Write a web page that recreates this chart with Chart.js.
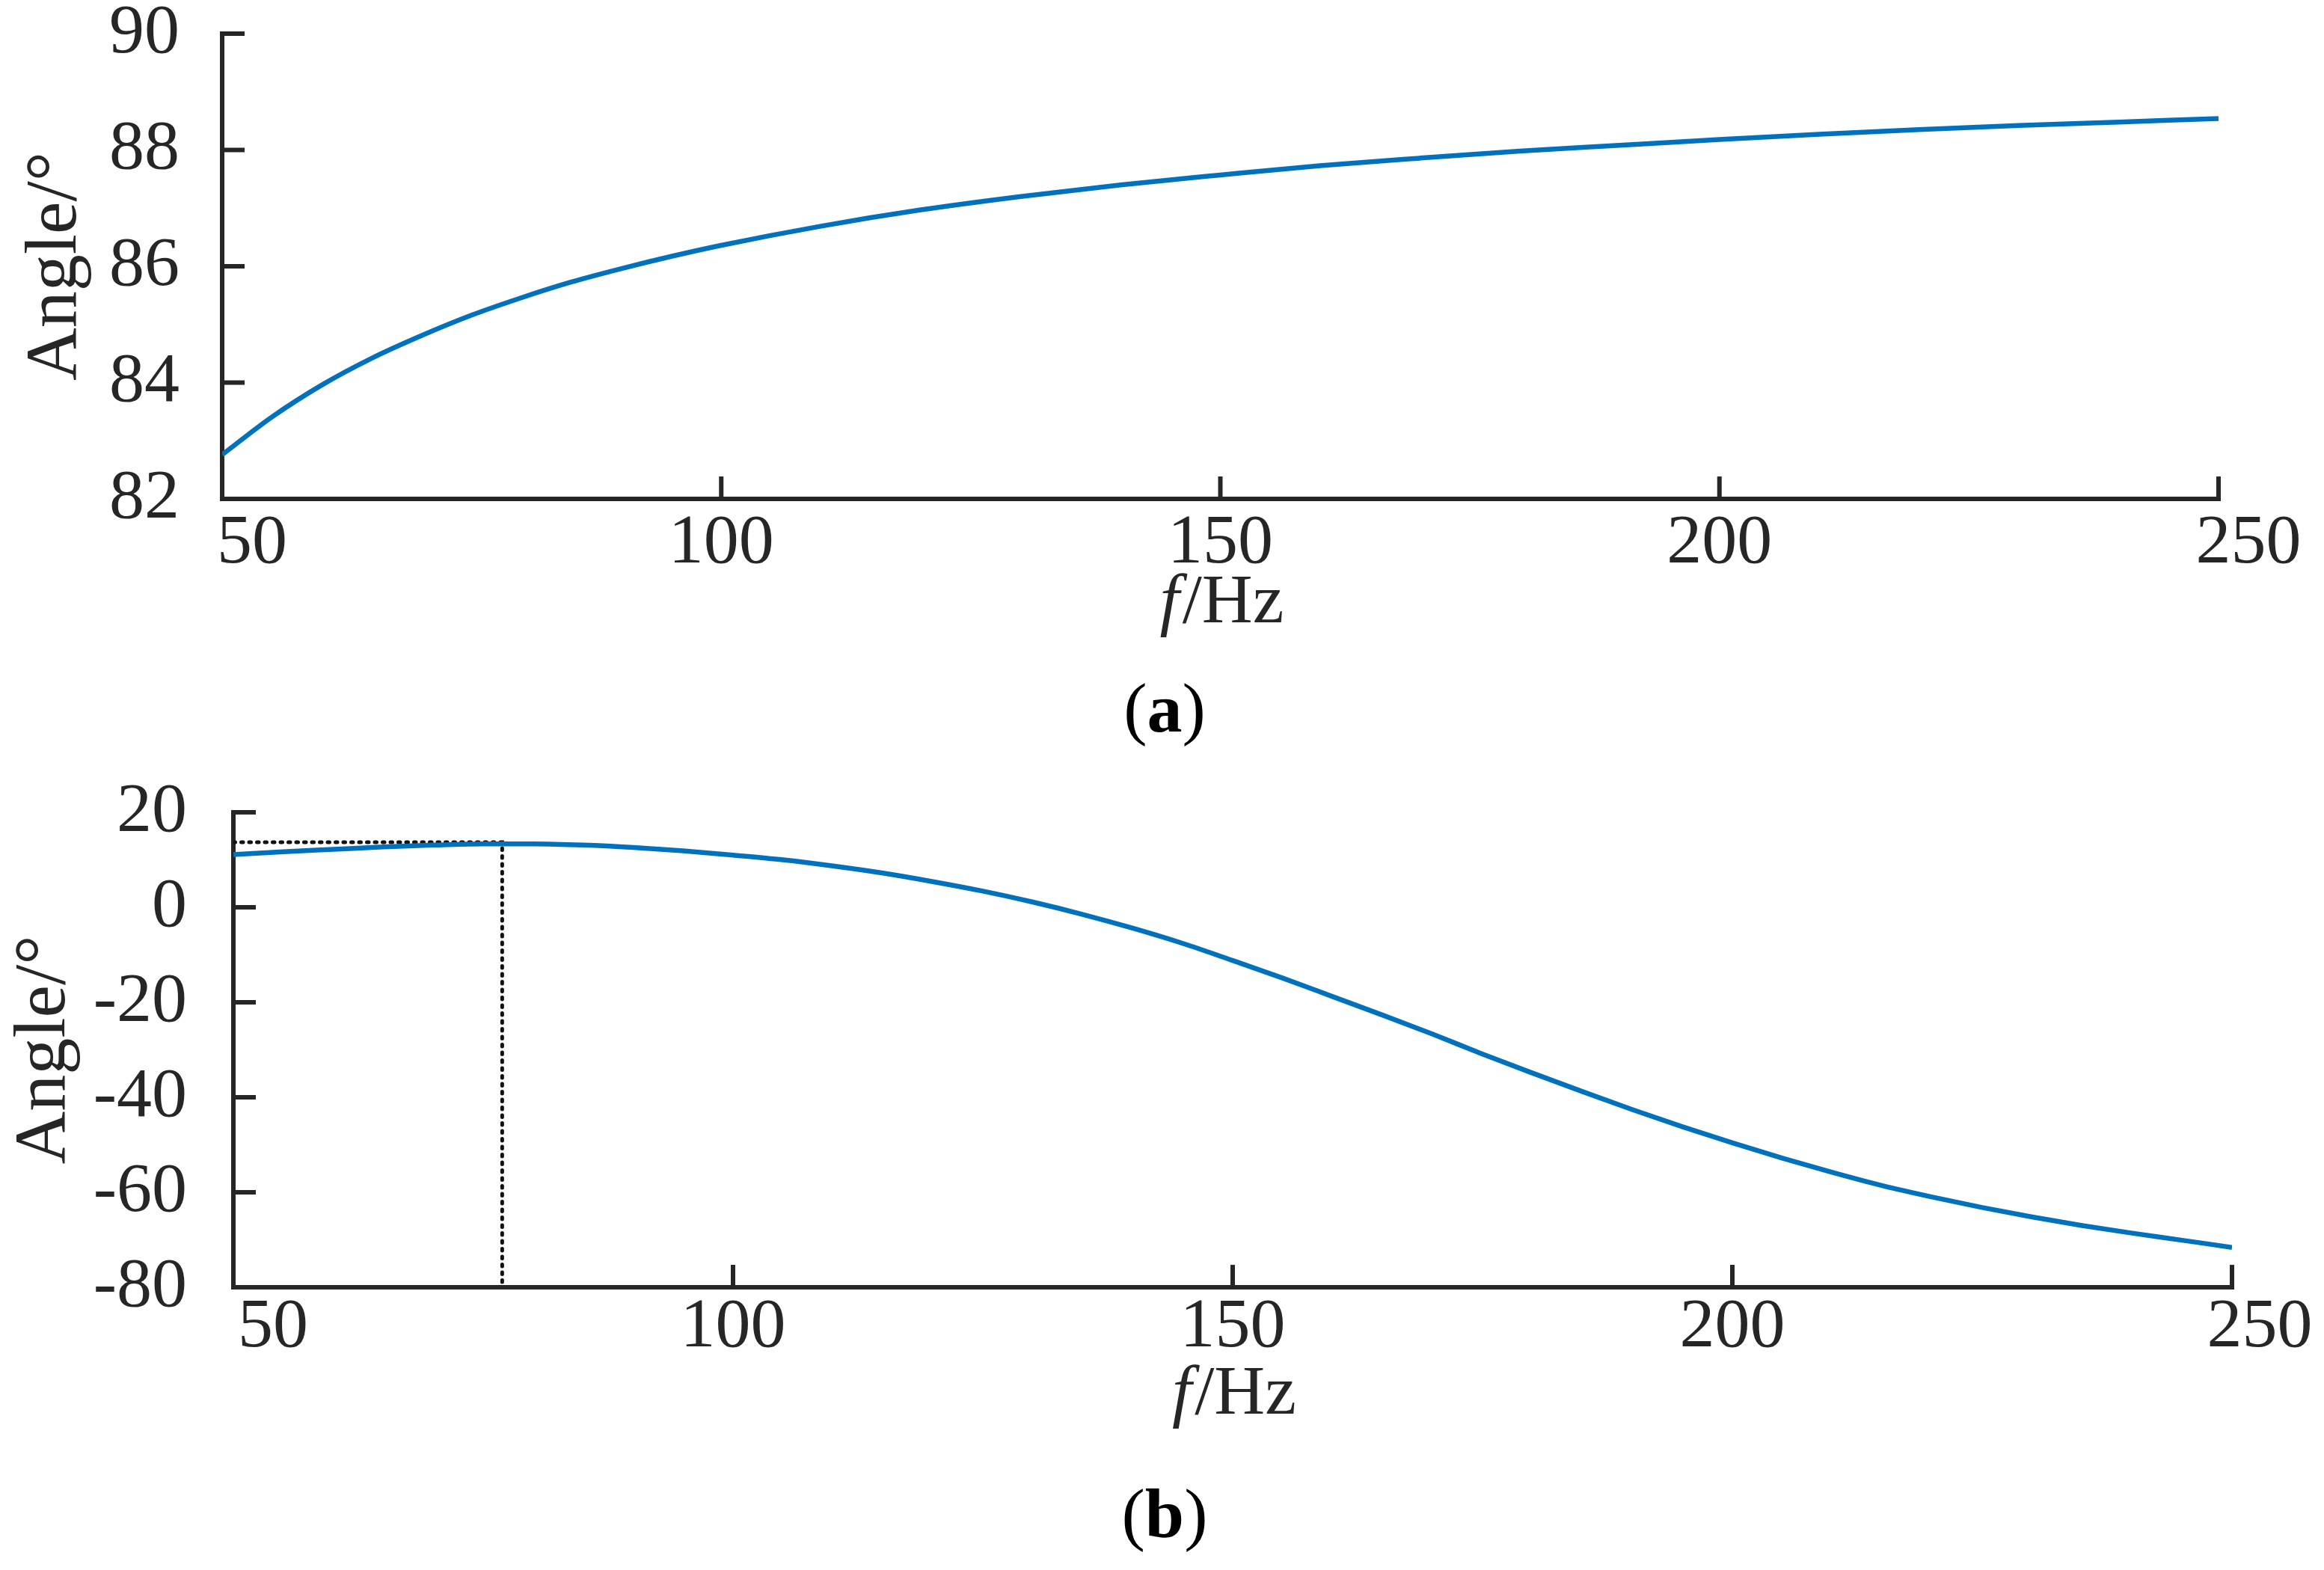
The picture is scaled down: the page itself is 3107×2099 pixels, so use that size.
<!DOCTYPE html>
<html>
<head>
<meta charset="utf-8">
<script src="https://cdn.jsdelivr.net/npm/chart.js@4.4.1/dist/chart.umd.min.js"></script>
<style>
  html, body { margin: 0; padding: 0; background: #fff; }
  #page { position: relative; width: 3107px; height: 2099px; background: #fff; }
  .panel { position: absolute; left: 0; width: 3107px; }
</style>
</head>
<body>
<div id="page">
  <div class="panel" style="top:0;height:1040px"><canvas id="chartA"></canvas></div>
  <div class="panel" style="top:1040px;height:1059px"><canvas id="chartB"></canvas></div>
</div>
<script>
// (a) impedance angle vs frequency
const freqA  = [50, 55, 60, 65, 70, 75, 80, 85, 90, 95, 100, 110, 120, 130, 140, 150, 160, 170, 180, 190, 200, 210, 220, 230, 240, 250];
const angleA = [82.76, 83.41, 83.96, 84.42, 84.81, 85.16, 85.46, 85.73, 85.96, 86.17, 86.36, 86.69, 86.97, 87.20, 87.40, 87.57, 87.73, 87.86, 87.98, 88.08, 88.18, 88.27, 88.35, 88.42, 88.48, 88.54];
const yTicksA = [82, 84, 86, 88, 90];

// (b) angle vs frequency, with the peak marked by dotted lines
const freqB  = [50, 55, 60, 65, 70, 75, 80, 85, 90, 95, 100, 105, 110, 115, 120, 125, 130, 135, 140, 145, 150,
                155, 160, 165, 170, 175, 180, 185, 190, 195, 200, 205, 210, 215, 220, 225, 230, 235, 240, 245, 250];
const angleB = [11.1, 11.7, 12.2, 12.7, 13.1, 13.35, 13.35, 13.1, 12.6, 11.9, 11.0, 10.0, 8.7, 7.2, 5.4, 3.4, 1.1, -1.5, -4.4, -7.6, -11.2,
                -14.9, -18.8, -22.7, -26.7, -30.9, -34.9, -38.8, -42.6, -46.2, -49.6, -52.8, -55.8, -58.6, -61.0, -63.2, -65.2, -67.0, -68.6, -70.1, -71.6];
const yTicksB = [-80, -60, -40, -20, 0, 20];
const peakX = [50, 76.9, 76.9];
const peakY = [13.7, 13.7, -80];

const xTicks = [50, 100, 150, 200, 250];

const AXIS = '#262626';
const BLUE = '#0072BD';
const SERIF = '"Liberation Serif", "Times New Roman", serif';
const FS = 94;
Chart.defaults.font.family = SERIF;

// matlab-like axes: left + bottom line, inward ticks, x labels, f/Hz title and panel caption
const matlabAxes = {
  id: 'matlabAxes',
  beforeDatasetsDraw(chart) {
    const { ctx, chartArea: a, scales: { x, y } } = chart;
    ctx.save();
    ctx.strokeStyle = AXIS;
    ctx.lineWidth = 6;
    ctx.lineCap = 'square';
    ctx.lineJoin = 'miter';
    ctx.beginPath();
    ctx.moveTo(a.left, a.top);
    ctx.lineTo(a.left, a.bottom);
    ctx.lineTo(a.right, a.bottom);
    ctx.stroke();
    ctx.lineCap = 'butt';
    ctx.beginPath();
    x.ticks.forEach(t => {
      const px = x.getPixelForValue(t.value);
      ctx.moveTo(px, a.bottom);
      ctx.lineTo(px, a.bottom - 30);
    });
    y.ticks.forEach(t => {
      const py = y.getPixelForValue(t.value);
      ctx.moveTo(a.left, py);
      ctx.lineTo(a.left + 30, py);
    });
    ctx.stroke();
    ctx.restore();
  },
  afterDraw(chart, args, opts) {
    const { ctx, chartArea: a, scales: { x } } = chart;
    const it = `italic ${FS}px ${SERIF}`, rg = `${FS}px ${SERIF}`, bd = `bold ${FS}px ${SERIF}`;
    ctx.save();
    ctx.textBaseline = 'alphabetic';
    ctx.fillStyle = AXIS;

    // x tick labels (end labels sit a little to the right, as in the original figure)
    ctx.font = rg;
    ctx.textAlign = 'center';
    const n = x.ticks.length;
    x.ticks.forEach((t, i) => {
      let shift = 0;
      if (i === 0) shift = opts.firstShift;
      if (i === n - 1) shift = opts.lastShift;
      ctx.fillText(String(t.value), x.getPixelForValue(t.value) + shift, a.bottom + opts.labelDrop);
    });

    // x title, italic f
    ctx.textAlign = 'left';
    ctx.font = it;
    const wf = ctx.measureText('f').width;
    ctx.font = rg;
    const wr = ctx.measureText('/Hz').width;
    const x0 = (a.left + a.right) / 2 - (wf + wr) / 2;
    const yb = a.bottom + opts.titleDrop;
    ctx.font = it;
    ctx.fillText('f', x0, yb);
    ctx.font = rg;
    ctx.fillText('/Hz', x0 + wf + 4, yb);

    // caption (a)/(b): letter bold, brackets regular
    ctx.fillStyle = '#000';
    ctx.font = rg;
    const wo = ctx.measureText('(').width;
    ctx.font = bd;
    const wl = ctx.measureText(opts.letter).width;
    const cx = opts.captionX - (2 * wo + wl) / 2;
    ctx.font = rg;
    ctx.fillText('(', cx, opts.captionY);
    ctx.font = bd;
    ctx.fillText(opts.letter, cx + wo, opts.captionY);
    ctx.font = rg;
    ctx.fillText(')', cx + wo + wl, opts.captionY);
    ctx.restore();
  }
};

function makeChart(id, cfg) {
  return new Chart(document.getElementById(id), {
    type: 'line',
    data: { datasets: cfg.datasets },
    options: {
      responsive: true,
      maintainAspectRatio: false,
      animation: false,
      layout: { autoPadding: false, padding: { top: cfg.padTop, right: cfg.padRight, left: 0, bottom: 0 } },
      plugins: {
        legend: { display: false },
        tooltip: { enabled: false },
        matlabAxes: {
          titleDrop: cfg.titleDrop, labelDrop: cfg.labelDrop,
          firstShift: cfg.firstShift, lastShift: cfg.lastShift,
          letter: cfg.letter, captionX: 1557, captionY: cfg.captionY
        }
      },
      scales: {
        x: {
          type: 'linear',
          min: 50, max: 250,
          afterBuildTicks: s => { s.ticks = xTicks.map(v => ({ value: v })); },
          ticks: { display: false },
          grid: { display: false, drawTicks: false },
          border: { display: false },
          afterFit: s => {
            s.height = cfg.xHeight;
            s.paddingLeft = 0; s.paddingRight = 0;
          }
        },
        y: {
          min: cfg.yTicks[0], max: cfg.yTicks[cfg.yTicks.length - 1],
          afterBuildTicks: s => { s.ticks = cfg.yTicks.map(v => ({ value: v })); },
          ticks: { padding: cfg.yPad, color: AXIS, font: { family: SERIF, size: FS, lineHeight: 1 },
                   callback: v => String(v) },
          grid: { display: false, drawTicks: false },
          border: { display: false },
          title: { display: true, text: 'Angle/°', color: AXIS,
                   font: { family: SERIF, size: 98, lineHeight: 1 },
                   padding: { top: cfg.titlePad, bottom: 0 } },
          afterFit: s => {
            s.width = cfg.yWidth;
            s.paddingTop = 0; s.paddingBottom = 0;
          }
        }
      }
    },
    plugins: [matlabAxes]
  });
}

makeChart('chartA', {
  datasets: [{
    data: freqA.map((f, i) => ({ x: f, y: angleA[i] })),
    borderColor: BLUE, borderWidth: 6.5, pointRadius: 0,
    cubicInterpolationMode: 'monotone', fill: false
  }],
  yTicks: yTicksA,
  padTop: 45, padRight: 141, yWidth: 297, xHeight: 373,
  yPad: 57, titlePad: 26,
  labelDrop: 85, titleDrop: 165, firstShift: 40, lastShift: 40,
  letter: 'a', captionY: 978
});

makeChart('chartB', {
  datasets: [{
    data: freqB.map((f, i) => ({ x: f, y: angleB[i] })),
    borderColor: BLUE, borderWidth: 6.5, pointRadius: 0,
    cubicInterpolationMode: 'monotone', fill: false
  }, {
    data: peakX.map((f, i) => ({ x: f, y: peakY[i] })),
    borderColor: '#111', borderWidth: 5, borderDash: [2.5, 8], borderCapStyle: 'round',
    pointRadius: 0, tension: 0, fill: false
  }],
  yTicks: yTicksB,
  padTop: 46, padRight: 123, yWidth: 312, xHeight: 378,
  yPad: 62, titlePad: 11,
  labelDrop: 79, titleDrop: 169, firstShift: 53, lastShift: 37,
  letter: 'b', captionY: 1015
});
</script>
</body>
</html>
